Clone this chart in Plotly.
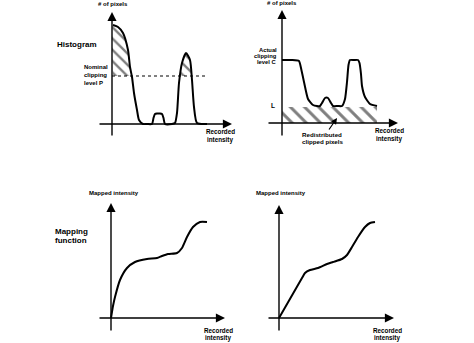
import numpy as np
import plotly.graph_objects as go

# ---------------- data (arbitrary units) ----------------
# Panel 1: original histogram (recorded intensity vs # of pixels)
hist_x = [1, 6, 11, 16, 18, 20, 22, 25, 27, 31, 35, 40, 41.5, 43, 45, 48, 50, 51.5, 53, 60, 63, 65, 67, 70, 74, 78, 80, 82, 85, 95]
hist_y = [99, 97, 91, 74, 57, 47, 31, 14, 4, 0, 0, 0, 6, 10, 10.5, 10.5, 10, 6, 0, 0, 1, 11, 41, 61, 71, 64, 44, 17, 1, 0]
clip_level_P = 48

# Panel 2: clipped + redistributed histogram
clip_x = [0, 10, 17, 19, 22, 26, 31, 35, 38, 40, 43, 46, 49, 51, 56, 60, 63, 65, 66.5, 68, 72, 76, 77.5, 79, 80, 83, 88, 95]
clip_y = [63, 63, 62, 55, 41, 24, 18, 17, 17, 20, 25, 25, 20, 17, 17, 17, 24, 41, 58, 63, 63, 63, 60, 49, 37, 26, 19, 17]
level_L = 16

# Panel 3: mapping function from the plain histogram
map1_x = [0, 2, 4, 9, 16, 24, 36, 46, 51, 57, 66, 71, 76, 82, 89, 96]
map1_y = [0, 12, 21, 38, 50, 56, 59, 60, 62, 64, 65, 70, 81, 91, 96, 96]

# Panel 4: mapping function from the clipped histogram
map2_x = [0, 23, 26, 31, 39, 48, 54, 63, 68, 73, 79, 86, 91, 96]
map2_y = [0, 40, 45, 48, 50, 54, 56, 59, 63, 71, 81, 91, 95, 96]

# ---------------- layout helpers ----------------
W, H = 474, 343
FONT = "Liberation Sans"
panels = {
    1: dict(box=(40, 0, 240, 170), origin=(112, 124), xaxis=(-14, 120), yaxis=(-13, 112)),
    2: dict(box=(240, 0, 474, 170), origin=(282, 123), xaxis=(-15, 116), yaxis=(-14, 113)),
    3: dict(box=(40, 170, 240, 343), origin=(111, 318), xaxis=(-13, 114), yaxis=(-14, 115)),
    4: dict(box=(240, 170, 474, 343), origin=(279, 318), xaxis=(-12, 115), yaxis=(-14, 113)),
}

fig = go.Figure()
layout = dict(width=W, height=H, margin=dict(l=0, r=0, t=0, b=0),
              paper_bgcolor="white", plot_bgcolor="rgba(0,0,0,0)", showlegend=False)
annotations = []


def ax_names(n):
    return ("x" if n == 1 else f"x{n}"), ("y" if n == 1 else f"y{n}")


for n, p in panels.items():
    bx0, by0, bx1, by1 = p["box"]
    ox, oy = p["origin"]
    xa, ya = ax_names(n)
    layout["xaxis" if n == 1 else f"xaxis{n}"] = dict(
        domain=[bx0 / W, bx1 / W], range=[bx0 - ox, bx1 - ox], visible=False,
        anchor=ya, fixedrange=True)
    layout["yaxis" if n == 1 else f"yaxis{n}"] = dict(
        domain=[1 - by1 / H, 1 - by0 / H], range=[oy - by1, oy - by0], visible=False,
        anchor=xa, fixedrange=True)
    # axis arrows
    x0, x1 = p["xaxis"]
    y0, y1 = p["yaxis"]
    for (tx, ty, sx, sy) in [(x1, 0, x0, 0), (0, y1, 0, y0)]:
        annotations.append(dict(x=tx, y=ty, ax=sx, ay=sy, xref=xa, yref=ya, axref=xa, ayref=ya,
                                text="", showarrow=True, arrowhead=2, arrowsize=1.3,
                                arrowwidth=1.4, arrowcolor="black", standoff=0))


def text(n, x, y, lines, size=6.5, anchor="center", spacing=None, bold=True):
    xa, ya = ax_names(n)
    if spacing is None:
        spacing = size * 1.2
    k = len(lines)
    for i, ln in enumerate(lines):
        yy = y + (k - 1) * spacing / 2 - i * spacing
        annotations.append(dict(x=x, y=yy, xref=xa, yref=ya, text=(f"<b>{ln}</b>" if bold else ln),
                                showarrow=False, xanchor=anchor, yanchor="middle",
                                font=dict(family=FONT, size=size, color="black")))


def regions_above(xs, ys, level):
    polys, cur = [], None
    for i in range(len(xs)):
        above = ys[i] > level
        if above and cur is None:
            if i == 0:
                cur = [(xs[0], level)]
            else:
                t = (level - ys[i - 1]) / (ys[i] - ys[i - 1])
                cur = [(xs[i - 1] + t * (xs[i] - xs[i - 1]), level)]
        if above:
            cur.append((xs[i], ys[i]))
        if cur is not None and (i == len(xs) - 1 or ys[i + 1] <= level) and above:
            if i < len(xs) - 1:
                t = (level - ys[i]) / (ys[i + 1] - ys[i])
                cur.append((xs[i] + t * (xs[i + 1] - xs[i]), level))
            polys.append(cur)
            cur = None
    return polys


hatch = dict(shape="\\", size=8, solidity=0.3, fgcolor="black", bgcolor="rgba(0,0,0,0)")

# ---- Panel 1 ----
for poly in regions_above(hist_x, hist_y, clip_level_P):
    px, py = zip(*poly)
    fig.add_trace(go.Scatter(x=list(px), y=list(py), fill="toself", mode="none",
                             fillcolor="rgba(0,0,0,0)", fillpattern=hatch,
                             line=dict(shape="spline", smoothing=0.6), xaxis="x", yaxis="y"))
fig.add_trace(go.Scatter(x=[0, max(hist_x)], y=[clip_level_P, clip_level_P], mode="lines",
                         line=dict(color="black", width=1, dash="dot"), xaxis="x", yaxis="y"))
fig.add_trace(go.Scatter(x=hist_x, y=hist_y, mode="lines",
                         line=dict(color="black", width=2, shape="spline", smoothing=0.6),
                         xaxis="x", yaxis="y"))
text(1, 1, 120, ["# of pixels"], size=6)
text(1, -57, 80, ["Histogram"], size=8, anchor="left")
text(1, -30, 49, ["Nominal", "clipping", "level P"], size=6, anchor="left", spacing=7.8)
text(1, 108, -12, ["Recorded", "intensity"], size=6.3, spacing=8.5)

# ---- Panel 2 ----
fig.add_trace(go.Scatter(x=[0, 0, max(clip_x), max(clip_x)], y=[0, level_L, level_L, 0],
                         fill="toself", mode="none", fillcolor="rgba(0,0,0,0)",
                         fillpattern=dict(shape="\\", size=10, solidity=0.3, fgcolor="black",
                                          bgcolor="rgba(0,0,0,0)"),
                         xaxis="x2", yaxis="y2"))
fig.add_trace(go.Scatter(x=clip_x, y=clip_y, mode="lines",
                         line=dict(color="black", width=2, shape="spline", smoothing=0.5),
                         xaxis="x2", yaxis="y2"))
text(2, 0, 120, ["# of pixels"], size=6)
text(2, -3, 67, ["Actual", "clipping", "level C"], size=5.8, anchor="right", spacing=6.3)
text(2, -9, 18, ["L"], size=6.5)
text(2, 40, -15, ["Redistributed", "clipped pixels"], size=6.2, spacing=7.8)
text(2, 107, -12, ["Recorded", "intensity"], size=6.3, spacing=8.5)
annotations.append(dict(x=55, y=5, ax=46, ay=-8, xref="x2", yref="y2", axref="x2", ayref="y2",
                        text="", showarrow=True, arrowhead=2, arrowsize=1, arrowwidth=1.2,
                        arrowcolor="black", standoff=0))

# ---- Panel 3 ----
fig.add_trace(go.Scatter(x=map1_x, y=map1_y, mode="lines",
                         line=dict(color="black", width=2, shape="spline", smoothing=0.6),
                         xaxis="x3", yaxis="y3"))
text(3, 3, 125, ["Mapped intensity"], size=6)
text(3, -58, 82, ["Mapping", "function"], size=8, anchor="left", spacing=9.5)
text(3, 107, -16, ["Recorded", "intensity"], size=6.3, spacing=7)

# ---- Panel 4 ----
fig.add_trace(go.Scatter(x=map2_x, y=map2_y, mode="lines",
                         line=dict(color="black", width=2, shape="spline", smoothing=0.5),
                         xaxis="x4", yaxis="y4"))
text(4, 2, 125, ["Mapped intensity"], size=6)
text(4, 108, -16, ["Recorded", "intensity"], size=6.3, spacing=7)

layout["annotations"] = annotations
fig.update_layout(**layout)
fig.write_html("out.html")
